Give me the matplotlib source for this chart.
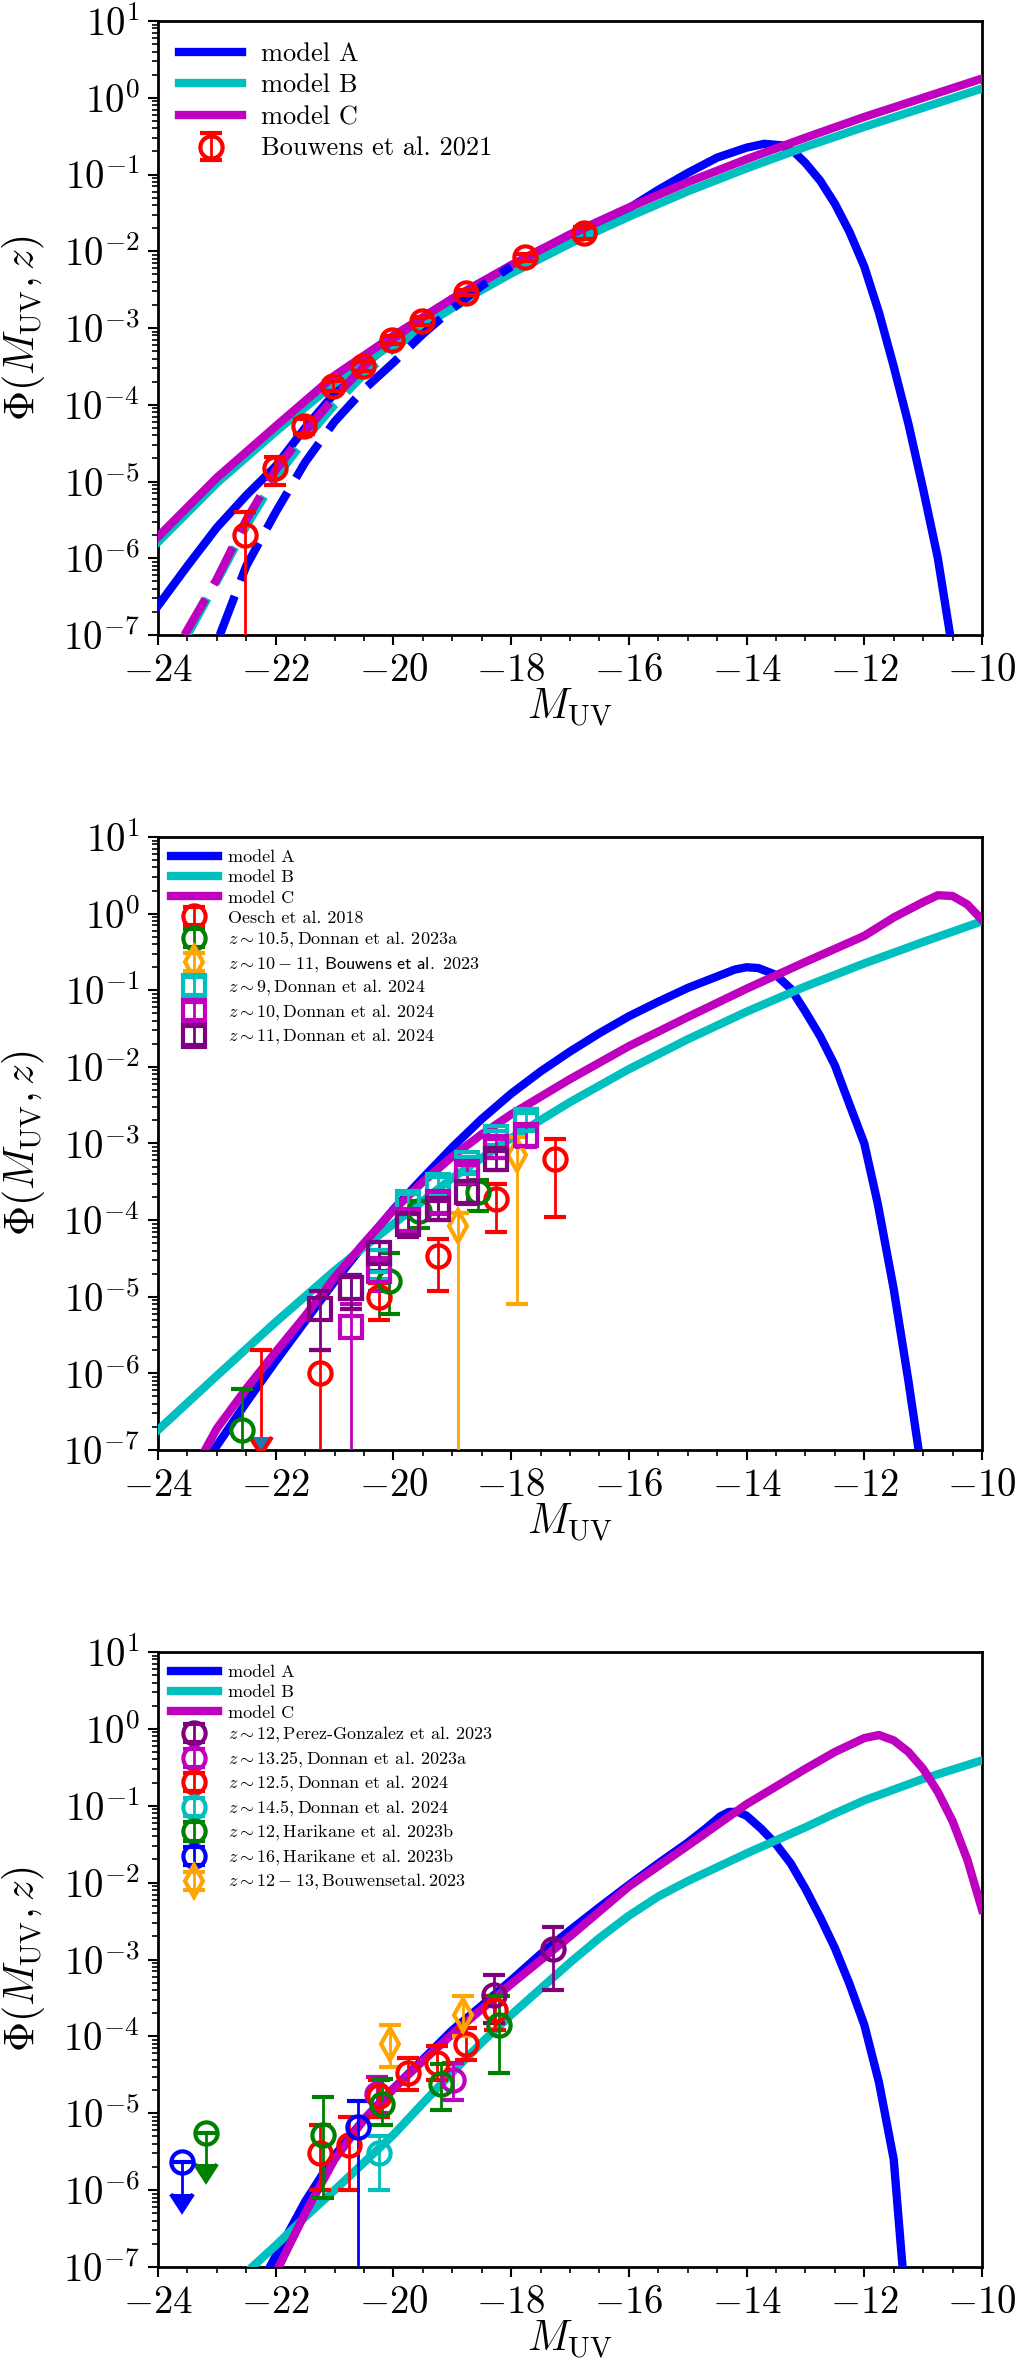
import numpy as np
import matplotlib as mpl
import matplotlib.pyplot as plt
from matplotlib.ticker import FuncFormatter, MultipleLocator, LogLocator

mpl.rcParams['font.family'] = 'serif'
mpl.rcParams['font.serif'] = ['cmr10', 'DejaVu Serif']
mpl.rcParams['mathtext.fontset'] = 'cm'
mpl.rcParams['axes.formatter.use_mathtext'] = True

# ---------------- panel 1 ----------------
p1_A_M = [-24, -23.5, -23, -22.5, -22, -21.5, -21, -20.5, -20, -19.5, -19, -18.5, -18, -17.5, -17,
          -16.5, -16, -15.5, -15, -14.5, -14, -13.7, -13.4, -13.2, -13.0, -12.75, -12.5, -12.25,
          -12, -11.75, -11.5, -11.25, -11, -10.75, -10.5]
p1_A_log = [-6.62, -6.1, -5.6, -5.18, -4.8, -4.3, -3.85, -3.48, -3.17, -2.9, -2.62, -2.4, -2.2, -1.98, -1.84,
            -1.66, -1.44, -1.2, -0.98, -0.78, -0.65, -0.6, -0.62, -0.7, -0.85, -1.08, -1.38, -1.75,
            -2.2, -2.8, -3.5, -4.25, -5.1, -6.0, -7.2]
p1_B_M = [-24, -23, -22, -21, -20, -19, -18, -17, -16, -15, -14, -13, -12, -11, -10]
p1_B_log = [-5.79, -5.02, -4.35, -3.72, -3.2, -2.72, -2.29, -1.9, -1.55, -1.22, -0.92, -0.64, -0.38, -0.13, 0.12]
p1_C_M = [-24, -23, -22, -21, -20, -19, -18, -17, -16, -15, -14, -13, -12, -11, -10]
p1_C_log = [-5.72, -4.95, -4.28, -3.62, -3.1, -2.62, -2.18, -1.78, -1.43, -1.1, -0.8, -0.52, -0.25, 0.0, 0.25]
p1_Ad_M = [-22.95, -22.5, -22, -21.5, -21, -20.5, -20, -19.5, -19, -18.5, -18]
p1_Ad_log = [-7.0, -6.1, -5.4, -4.75, -4.22, -3.8, -3.45, -3.08, -2.75, -2.45, -2.2]
p1_Cd_M = [-23.55, -23, -22.5, -22, -21.5, -21, -20.5, -20, -19.5, -19]
p1_Cd_log = [-7.0, -6.27, -5.5, -4.85, -4.35, -3.9, -3.5, -3.14, -2.86, -2.62]
p1_Bd_M = [-23.5, -23, -22.5, -22, -21.5, -21, -20.5, -20, -19.5, -19, -18.5]
p1_Bd_log = [-7.0, -6.3, -5.58, -4.95, -4.45, -4.0, -3.6, -3.27, -2.98, -2.74, -2.52]

bouwens21_M = [-22.52, -22.02, -21.52, -21.02, -20.52, -20.02, -19.52, -18.77, -17.77, -16.77]
bouwens21_phi = [2.0e-6, 1.5e-5, 5.3e-5, 1.76e-4, 3.2e-4, 6.98e-4, 1.246e-3, 2.9e-3, 8.325e-3, 1.74e-2]
bouwens21_err = [2.0e-6, 6e-6, 1.2e-5, 2.5e-5, 4.1e-5, 8.3e-5, 1.37e-4, 2.08e-4, 8.5e-4, 3.0e-3]

# ---------------- panel 2 ----------------
p2_A_M = [-23.05, -22.5, -22, -21.5, -21, -20.5, -20, -19.5, -19, -18.5, -18, -17.5, -17, -16.5, -16,
          -15.5, -15, -14.5, -14.2, -14.0, -13.8, -13.5, -13.25, -13, -12.75, -12.5, -12.33, -12,
          -11.77, -11.5, -11.25, -11.0]
p2_A_log = [-7.0, -6.38, -5.84, -5.32, -4.8, -4.32, -3.86, -3.45, -3.05, -2.68, -2.35, -2.06, -1.8, -1.56, -1.34,
            -1.15, -0.97, -0.82, -0.73, -0.7, -0.71, -0.8, -0.98, -1.28, -1.6, -1.98, -2.33, -3.0,
            -3.79, -4.9, -6.1, -7.4]
p2_B_M = [-24, -23, -22, -21, -20.5, -20, -19, -18, -17, -16, -15, -14, -13, -12, -11, -10]
p2_B_log = [-6.74, -6.03, -5.33, -4.66, -4.35, -4.05, -3.45, -2.93, -2.46, -2.03, -1.64, -1.28, -0.95, -0.65, -0.37, -0.1]
p2_C_M = [-23.2, -23, -22.5, -22, -21.5, -21, -20.5, -20, -19.5, -19, -18.5, -18, -17, -16, -15, -14, -13, -12,
          -11.5, -11, -10.75, -10.5, -10.25, -10]
p2_C_log = [-7.0, -6.72, -6.2, -5.72, -5.25, -4.75, -4.3, -3.87, -3.5, -3.17, -2.88, -2.62, -2.16, -1.73, -1.35,
            -0.98, -0.63, -0.29, -0.05, 0.15, 0.24, 0.23, 0.12, -0.08]

oesch_M = [-21.25, -20.25, -19.25, -18.25, -17.25]
oesch_phi = [1.0e-6, 1.0e-5, 3.4e-5, 1.9e-4, 6.3e-4]
oesch_lo = [1.0e-6, 5e-6, 2.2e-5, 1.2e-4, 5.2e-4]
oesch_hi = [1.0e-6, 5e-6, 2.2e-5, 1.1e-4, 5.2e-4]
oesch_lim_M = [-22.25]
oesch_lim_phi = [2.0e-6]

don23_M = [-22.57, -20.07, -19.57, -18.57]
don23_phi = [1.8e-7, 1.6e-5, 1.3e-4, 2.3e-4]
don23_lo = [1.8e-7, 1.0e-5, 5e-5, 1e-4]
don23_hi = [4.4e-7, 2.1e-5, 5e-5, 1e-4]

bou23_M = [-18.9, -17.9]
bou23_phi = [8.3e-5, 7.0e-4]
bou23_lo = [8.3e-5, 6.92e-4]
bou23_hi = [4e-5, 5e-4]

d24z9_M = [-20.72, -20.24, -19.75, -19.25, -18.75, -18.25, -17.75]
d24z9_phi = [1.3e-5, 2.9e-5, 1.7e-4, 2.9e-4, 5.5e-4, 1.2e-3, 2.0e-3]
d24z9_err = [6e-6, 1.2e-5, 5e-5, 7e-5, 1.2e-4, 2.5e-4, 5e-4]
d24z10_M = [-20.72, -20.24, -19.75, -19.25, -18.75, -18.25, -17.75]
d24z10_phi = [4e-6, 2.2e-5, 1.0e-4, 1.7e-4, 4.2e-4, 9.0e-4, 1.3e-3]
d24z10_err = [4e-6, 1e-5, 3e-5, 5e-5, 1e-4, 2.5e-4, 4e-4]
d24z11_M = [-21.25, -20.72, -20.24, -19.75, -19.25, -18.75, -18.25]
d24z11_phi = [7e-6, 1.3e-5, 3.7e-5, 9e-5, 1.4e-4, 2.3e-4, 6.3e-4]
d24z11_err = [5e-6, 6e-6, 1.5e-5, 3e-5, 4e-5, 7e-5, 1.8e-4]

# ---------------- panel 3 ----------------
p3_A_M = [-22.1, -21.5, -21, -20.5, -20, -19.5, -19, -18.5, -18, -17.5, -17, -16.5, -16, -15.5, -15,
          -14.7, -14.45, -14.3, -14.15, -14.0, -13.75, -13.5, -13.25, -13, -12.75, -12.5, -12.25, -12,
          -11.75, -11.5, -11.35]
p3_A_log = [-7.0, -6.15, -5.55, -5.08, -4.68, -4.3, -3.92, -3.6, -3.27, -2.93, -2.62, -2.32, -2.03, -1.75, -1.48,
            -1.3, -1.14, -1.08, -1.08, -1.13, -1.3, -1.5, -1.75, -2.08, -2.45, -2.85, -3.32, -3.85,
            -4.6, -5.6, -7.0]
p3_B_M = [-22.4, -22, -21.5, -21, -20.5, -20, -19.5, -19, -18.5, -18, -17.5, -17, -16.5, -16, -15.5, -15,
          -14.5, -14, -13.5, -13, -12.5, -12, -11.5, -11, -10.5, -10]
p3_B_log = [-7.0, -6.72, -6.35, -6.0, -5.64, -5.28, -4.87, -4.47, -4.08, -3.72, -3.38, -3.04, -2.72, -2.43, -2.18, -1.98,
            -1.8, -1.62, -1.45, -1.28, -1.1, -0.93, -0.79, -0.65, -0.53, -0.41]
p3_C_M = [-21.95, -21.5, -21, -20.5, -20, -19.5, -19, -18, -17, -16, -15, -14, -13, -12.5, -12,
          -11.75, -11.5, -11.25, -11, -10.75, -10.5, -10.25, -10]
p3_C_log = [-7.0, -6.3, -5.6, -5.08, -4.68, -4.32, -3.97, -3.32, -2.7, -2.05, -1.52, -0.98, -0.52, -0.3, -0.12,
            -0.08, -0.15, -0.3, -0.52, -0.82, -1.2, -1.7, -2.35]

pg23_M = [-18.29, -17.29]
pg23_phi = [3.5e-4, 1.35e-3]
pg23_lo = [2.0e-4, 9.5e-4]
pg23_hi = [2.8e-4, 1.3e-3]
d23z13_M = [-20.28, -18.98]
d23z13_phi = [1.8e-5, 2.7e-5]
d23z13_lo = [8e-6, 1.2e-5]
d23z13_hi = [1.2e-5, 1.8e-5]
d24z12_M = [-21.25, -20.75, -20.24, -19.75, -19.26, -18.76, -18.27]
d24z12_phi = [3e-6, 3.9e-6, 1.7e-5, 3.3e-5, 4.5e-5, 8e-5, 2.2e-4]
d24z12_lo = [2e-6, 2.9e-6, 8e-6, 1.3e-5, 1.8e-5, 3e-5, 1e-4]
d24z12_hi = [4e-6, 5e-6, 1e-5, 2e-5, 3e-5, 5e-5, 1.2e-4]
d24z14_M = [-20.24]
d24z14_phi = [3e-6]
d24z14_lo = [2e-6]
d24z14_hi = [2e-6]
h23z12_M = [-21.2, -20.19, -19.19, -18.2]
h23z12_phi = [5.2e-6, 1.3e-5, 2.4e-5, 1.4e-4]
h23z12_lo = [4.4e-6, 6e-6, 1.3e-5, 1.07e-4]
h23z12_hi = [1.1e-5, 1.5e-5, 2e-5, 2e-4]
h23z12_lim_M = [-23.19]
h23z12_lim_phi = [5.5e-6]
h23z16_M = [-20.6]
h23z16_phi = [6.6e-6]
h23z16_lo = [6.6e-6]
h23z16_hi = [8e-6]
h23z16_lim_M = [-23.59]
h23z16_lim_phi = [2.3e-6]
b23z12_M = [-20.05, -18.82]
b23z12_phi = [8e-5, 1.9e-4]
b23z12_lo = [4e-5, 9e-5]
b23z12_hi = [6e-5, 1.5e-4]

fig = plt.figure(figsize=(10.2, 23.66), dpi=100)
W, H = 1020.0, 2366.0
tops = [21, 837, 1652]
bots = [635, 1450, 2267]
axes = []
for t, b in zip(tops, bots):
    axes.append(fig.add_axes([158 / W, 1 - b / H, 824 / W, (b - t) / H]))

LW = 6
EB = dict(ms=16, mew=3, mfc='none', capsize=8, capthick=3, elinewidth=2, ls='none')
DASH = (5, 2)


def models(ax, MA, lA, MB, lB, MC, lC):
    ax.plot(MA, 10 ** np.array(lA), color='b', lw=LW, label='model A', zorder=3)
    ax.plot(MB, 10 ** np.array(lB), color='c', lw=LW, label='model B', zorder=3)
    ax.plot(MC, 10 ** np.array(lC), color='m', lw=LW, label='model C', zorder=3)


def style(ax):
    ax.set_yscale('log')
    ax.set_xlim(-24, -10)
    ax.set_ylim(1e-7, 10)
    ax.xaxis.set_major_locator(MultipleLocator(2))
    ax.xaxis.set_minor_locator(MultipleLocator(0.5))
    ax.xaxis.set_major_formatter(FuncFormatter(lambda v, p: r'$%d$' % round(v)))
    ax.yaxis.set_major_locator(LogLocator(base=10, numticks=20))
    ax.yaxis.set_minor_locator(LogLocator(base=10, subs=np.arange(2, 10), numticks=20))
    ax.yaxis.set_major_formatter(FuncFormatter(lambda v, p: r'$10^{%d}$' % round(np.log10(v))))
    ax.tick_params(which='major', labelsize=28, length=7, width=1.5, pad=6)
    ax.tick_params(which='minor', length=4, width=1.2)
    for s in ax.spines.values():
        s.set_linewidth(2)
    ax.set_xlabel(r'$M_{\rm UV}$', fontsize=30)
    ax.set_ylabel(r'$\Phi(M_{\rm UV},z)$', fontsize=30)
    ax.xaxis.set_label_coords(0.5, -0.085)
    ax.yaxis.set_label_coords(-0.135, 0.5)


# panel 1
ax = axes[0]
models(ax, p1_A_M, p1_A_log, p1_B_M, p1_B_log, p1_C_M, p1_C_log)
ax.plot(p1_Bd_M, 10 ** np.array(p1_Bd_log), color='c', lw=LW, ls='--', dashes=DASH, zorder=3)
ax.plot(p1_Cd_M, 10 ** np.array(p1_Cd_log), color='m', lw=LW, ls='--', dashes=DASH, zorder=3)
ax.plot(p1_Ad_M, 10 ** np.array(p1_Ad_log), color='b', lw=LW, ls='--', dashes=DASH, zorder=3)
ax.errorbar(bouwens21_M, bouwens21_phi, yerr=bouwens21_err, fmt='o', color='r', label='Bouwens et al. 2021',
            zorder=4, **EB)
style(ax)
ax.legend(loc='upper left', frameon=False, fontsize=19, handlelength=2.4, handletextpad=0.7,
          labelspacing=0.3, borderaxespad=0.4, borderpad=0.4)

# panel 2
ax = axes[1]
models(ax, p2_A_M, p2_A_log, p2_B_M, p2_B_log, p2_C_M, p2_C_log)
ax.errorbar(oesch_M, oesch_phi, yerr=[oesch_lo, oesch_hi], fmt='o', color='r', label='Oesch et al. 2018',
            zorder=4, **EB)
ax.errorbar(oesch_lim_M, oesch_lim_phi, yerr=[[1.85e-6], [0]], uplims=True, fmt='none', ecolor='r',
            elinewidth=2, capsize=8, capthick=3, zorder=4)
ax.errorbar(don23_M, don23_phi, yerr=[don23_lo, don23_hi], fmt='o', color='g',
            label=r'$z\sim10.5,$Donnan et al. 2023a', zorder=4, **EB)
ax.errorbar(bou23_M, bou23_phi, yerr=[bou23_lo, bou23_hi], fmt='d', color='orange',
            label=r'$z\sim10-11$, $\mathsf{Bouwens\ et\ al.\ 2023}$', zorder=4, **EB)
ax.errorbar(d24z9_M, d24z9_phi, yerr=d24z9_err, fmt='s', color='c', label=r'$z\sim9,$Donnan et al. 2024',
            zorder=4, **EB)
ax.errorbar(d24z10_M, d24z10_phi, yerr=d24z10_err, fmt='s', color='m', label=r'$z\sim10,$Donnan et al. 2024',
            zorder=4, **EB)
ax.errorbar(d24z11_M, d24z11_phi, yerr=d24z11_err, fmt='s', color='purple',
            label=r'$z\sim11,$Donnan et al. 2024', zorder=4, **EB)
style(ax)
ax.legend(loc='upper left', frameon=False, fontsize=13, handlelength=2.6, handletextpad=0.55,
          labelspacing=0.25, borderaxespad=0.3, borderpad=0.4)

# panel 3
ax = axes[2]
models(ax, p3_A_M, p3_A_log, p3_B_M, p3_B_log, p3_C_M, p3_C_log)
ax.errorbar(pg23_M, pg23_phi, yerr=[pg23_lo, pg23_hi], fmt='o', color='purple',
            label=r'$z\sim12,$Perez-Gonzalez et al. 2023', zorder=4, **EB)
ax.errorbar(d23z13_M, d23z13_phi, yerr=[d23z13_lo, d23z13_hi], fmt='o', color='m',
            label=r'$z\sim13.25,$Donnan et al. 2023a', zorder=4, **EB)
ax.errorbar(d24z12_M, d24z12_phi, yerr=[d24z12_lo, d24z12_hi], fmt='o', color='r',
            label=r'$z\sim12.5,$Donnan et al. 2024', zorder=4, **EB)
ax.errorbar(d24z14_M, d24z14_phi, yerr=[d24z14_lo, d24z14_hi], fmt='o', color='c',
            label=r'$z\sim14.5,$Donnan et al. 2024', zorder=4, **EB)
ax.errorbar(h23z12_M, h23z12_phi, yerr=[h23z12_lo, h23z12_hi], fmt='o', color='g',
            label=r'$z\sim12,$Harikane et al. 2023b', zorder=4, **EB)
ax.errorbar(h23z12_lim_M, h23z12_lim_phi, yerr=[[3.3e-6], [0]], uplims=True, fmt='o', color='g',
            zorder=4, **EB)
ax.errorbar(h23z16_M, h23z16_phi, yerr=[h23z16_lo, h23z16_hi], fmt='o', color='b',
            label=r'$z\sim16,$Harikane et al. 2023b', zorder=4, **EB)
ax.errorbar(h23z16_lim_M, h23z16_lim_phi, yerr=[[1.4e-6], [0]], uplims=True, fmt='o', color='b',
            zorder=4, **EB)
ax.errorbar(b23z12_M, b23z12_phi, yerr=[b23z12_lo, b23z12_hi], fmt='d', color='orange',
            label=r'$z\sim12-13, \rm Bouwens et al. 2023$', zorder=4, **EB)
style(ax)
ax.legend(loc='upper left', frameon=False, fontsize=13, handlelength=2.6, handletextpad=0.55,
          labelspacing=0.25, borderaxespad=0.3, borderpad=0.4)

fig.savefig('out.png', dpi=100)
